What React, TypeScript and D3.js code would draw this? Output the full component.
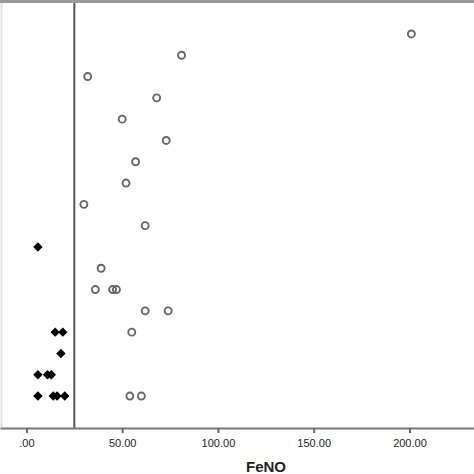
import React, { useEffect, useRef } from "react";
import * as d3 from "d3";

// FeNO values per row (row 1 = bottom)
const circleRows = [18, 17, 16, 15, 14, 13, 12, 11, 10, 9, 7, 6, 6, 6, 5, 5, 4, 1, 1];
const circleValues = [201, 81, 32, 68, 50, 73, 57, 52, 30, 62, 39, 36, 45, 47, 62, 74, 55, 54, 60];

const diamondRows = [8, 4, 4, 3, 2, 2, 2, 1, 1, 1, 1];
const diamondValues = [6, 15, 19, 18, 6, 11, 13, 6, 14, 16, 20];

const xTicks = [0, 50, 100, 150, 200];
const cutoff = 25;

export default function App() {
  const ref = useRef<SVGSVGElement>(null);

  useEffect(() => {
    if (!ref.current) return;
    const width = 474;
    const height = 474;
    const axisY = 428;

    const svg = d3.select(ref.current);
    svg.selectAll("*").remove();

    const x = d3.scaleLinear().domain([-13.8, 233.7]).range([0, width]);
    const y = d3.scaleLinear().domain([-0.5, 19.5]).range([axisY, 2]);

    svg.append("rect").attr("width", width).attr("height", height).attr("fill", "#fff");

    // frame bits
    svg
      .append("line")
      .attr("x1", 0)
      .attr("x2", width)
      .attr("y1", 1.5)
      .attr("y2", 1.5)
      .attr("stroke", "#999")
      .attr("stroke-width", 3);
    svg
      .append("line")
      .attr("x1", 1.5)
      .attr("x2", 1.5)
      .attr("y1", 3)
      .attr("y2", axisY)
      .attr("stroke", "#e2e2e2")
      .attr("stroke-width", 2);

    // cutoff line
    svg
      .append("line")
      .attr("x1", x(cutoff))
      .attr("x2", x(cutoff))
      .attr("y1", 3)
      .attr("y2", axisY)
      .attr("stroke", "#555")
      .attr("stroke-width", 2);

    // x axis
    const axis = svg
      .append("g")
      .attr("transform", `translate(0,${axisY})`)
      .call(
        d3
          .axisBottom(x)
          .tickValues(xTicks)
          .tickSizeInner(5)
          .tickSizeOuter(0)
          .tickPadding(6)
          .tickFormat((d) => (d === 0 ? ".00" : (d as number).toFixed(2)))
      );
    axis.select(".domain").attr("stroke", "#777").attr("stroke-width", 2);
    axis.selectAll(".tick line").attr("stroke", "#666").attr("stroke-width", 2);
    axis
      .selectAll(".tick text")
      .attr("fill", "#222")
      .style("font-family", "Arial, 'Liberation Sans', sans-serif")
      .style("font-size", "11px");

    svg
      .append("text")
      .attr("x", 266)
      .attr("y", 472)
      .attr("text-anchor", "middle")
      .attr("fill", "#222")
      .style("font-family", "Arial, 'Liberation Sans', sans-serif")
      .style("font-size", "15px")
      .style("font-weight", "bold")
      .text("FeNO");

    // open circles
    svg
      .append("g")
      .selectAll("circle")
      .data(circleValues)
      .join("circle")
      .attr("cx", (d) => x(d))
      .attr("cy", (_, i) => y(circleRows[i]))
      .attr("r", 3.5)
      .attr("fill", "none")
      .attr("stroke", "#666")
      .attr("stroke-width", 1.9);

    // filled diamonds
    svg
      .append("g")
      .selectAll("path")
      .data(diamondValues)
      .join("path")
      .attr("transform", (d, i) => `translate(${x(d)},${y(diamondRows[i])}) rotate(45)`)
      .attr("d", d3.symbol(d3.symbolSquare, 44)())
      .attr("fill", "#000");
  }, []);

  return (
    <svg
      ref={ref}
      width={474}
      height={474}
      style={{ position: "absolute", left: 0, top: 0, display: "block" }}
    />
  );
}
